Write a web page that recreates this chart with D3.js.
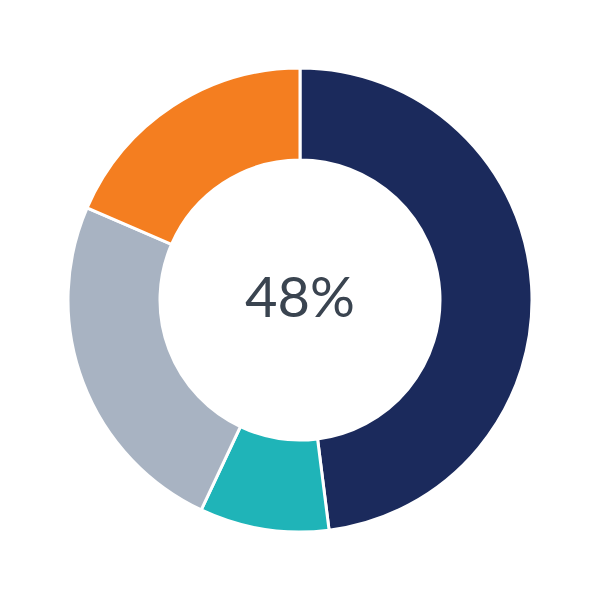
<!DOCTYPE html>
<html>
<head>
<meta charset="utf-8">
<script src="https://cdn.jsdelivr.net/npm/d3@7"></script>
<style>
body { margin: 0; background: #fff; }
</style>
</head>
<body>
<script>
var w = 600;
var h = 600;

var categories = ["A", "B", "C", "D"];
var values = [48, 9, 24.5, 18.5];
var colors = ["#1b2a5c", "#1fb4b8", "#a8b3c2", "#f47e20"];
var centerLabel = "48%";

var outerR = 232;
var innerR = 140;

var svg = d3.select("body")
    .append("svg")
    .attr("width", w)
    .attr("height", h)
    .append("g")
    .attr("transform", "translate(300,300)");

var pie = d3.pie()
    .sort(null)
    .value(function (d) { return d; });

var arc = d3.arc()
    .innerRadius(innerR)
    .outerRadius(outerR);

var color = d3.scaleOrdinal()
    .domain(categories)
    .range(colors);

svg.selectAll("path")
    .data(pie(values))
    .enter()
    .append("path")
    .attr("d", arc)
    .attr("fill", function (d, i) { return color(categories[i]); })
    .attr("stroke", "#fff")
    .attr("stroke-width", 3);

svg.append("text")
    .attr("x", 0)
    .attr("y", 17)
    .attr("text-anchor", "middle")
    .attr("font-family", "Lato, 'Open Sans', sans-serif")
    .attr("font-size", 56)
    .attr("fill", "#3a4450")
    .text(centerLabel);
</script>
</body>
</html>
